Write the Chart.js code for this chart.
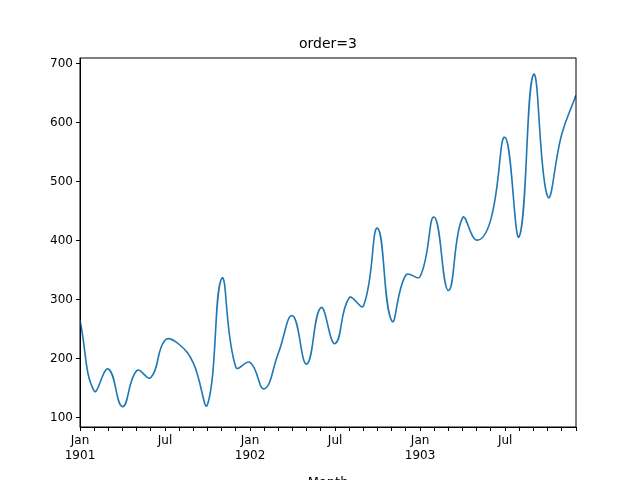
<!DOCTYPE html>
<html><head><script src="https://cdn.jsdelivr.net/npm/chart.js@4"></script>
<style>body{margin:0;background:#fff}#w{width:640px;height:480px}</style></head>
<body><div id="w"><canvas id="c"></canvas></div>
<script>
const months=["Jan","Feb","Mar","Apr","May","Jun","Jul","Aug","Sep","Oct","Nov","Dec"];
const years=[1901,1902,1903];
const sales=[266.0,145.9,183.1,119.3,180.3,168.5,231.8,224.5,192.8,122.9,336.5,185.9,194.3,149.5,210.1,273.3,191.4,287.0,226.0,303.6,289.9,421.6,264.5,342.3,339.7,440.4,315.9,439.3,401.3,437.4,575.5,407.6,682.0,475.3,581.3,646.9];
const yTicks=[100,200,300,400,500,600,700];
const titleText='order=3';
const pts=sales.map((v,i)=>({x:i,y:v}));
const frame={id:'frame',afterDraw(c){const a=c.chartArea,x=c.ctx;x.save();
 x.strokeStyle='#000';x.lineWidth=1;x.strokeRect(a.left,a.top,a.right-a.left,a.bottom-a.top);
 x.fillStyle='#000';x.font='14px "DejaVu Sans"';x.textAlign='center';x.textBaseline='bottom';
 x.fillText(titleText,(a.left+a.right)/2,a.top-7);x.restore();}};
new Chart(document.getElementById('c'),{type:'line',
data:{datasets:[{data:pts,borderColor:'#1f77b4',borderWidth:1.6,pointRadius:0,tension:0.45}]},
plugins:[frame],
options:{responsive:true,maintainAspectRatio:false,animation:false,
layout:{padding:{left:0,right:64,top:58,bottom:0}},
plugins:{legend:{display:false},tooltip:{enabled:false},title:{display:false}},
scales:{
 x:{type:'linear',min:0,max:35,
  afterBuildTicks:s=>{s.ticks=sales.map((v,i)=>({value:i}));},
  afterFit:s=>{s.height=53;},
  grid:{display:true,drawOnChartArea:false,color:'#000',tickLength:4,tickColor:'#000'},border:{color:'#000'},
  ticks:{autoSkip:false,maxRotation:0,color:'#000',font:{size:12,family:'DejaVu Sans'},
   callback:(v)=>{if(v%6!==0)return '';const m=months[v%12];return v%12===0?[m,String(years[v/12])]:m;}},
  title:{display:true,text:'Month',color:'#000',font:{size:13,family:'DejaVu Sans'},padding:{top:11,bottom:-10}}},
 y:{min:84.7,max:710,
  afterBuildTicks:s=>{s.ticks=yTicks.map(v=>({value:v}));},
  afterFit:s=>{s.width=80;},
  grid:{display:true,drawOnChartArea:false,color:'#000',tickLength:4,tickColor:'#000'},border:{color:'#000'},
  ticks:{color:'#000',font:{size:12,family:'DejaVu Sans'}}}
}}});
</script></body></html>
